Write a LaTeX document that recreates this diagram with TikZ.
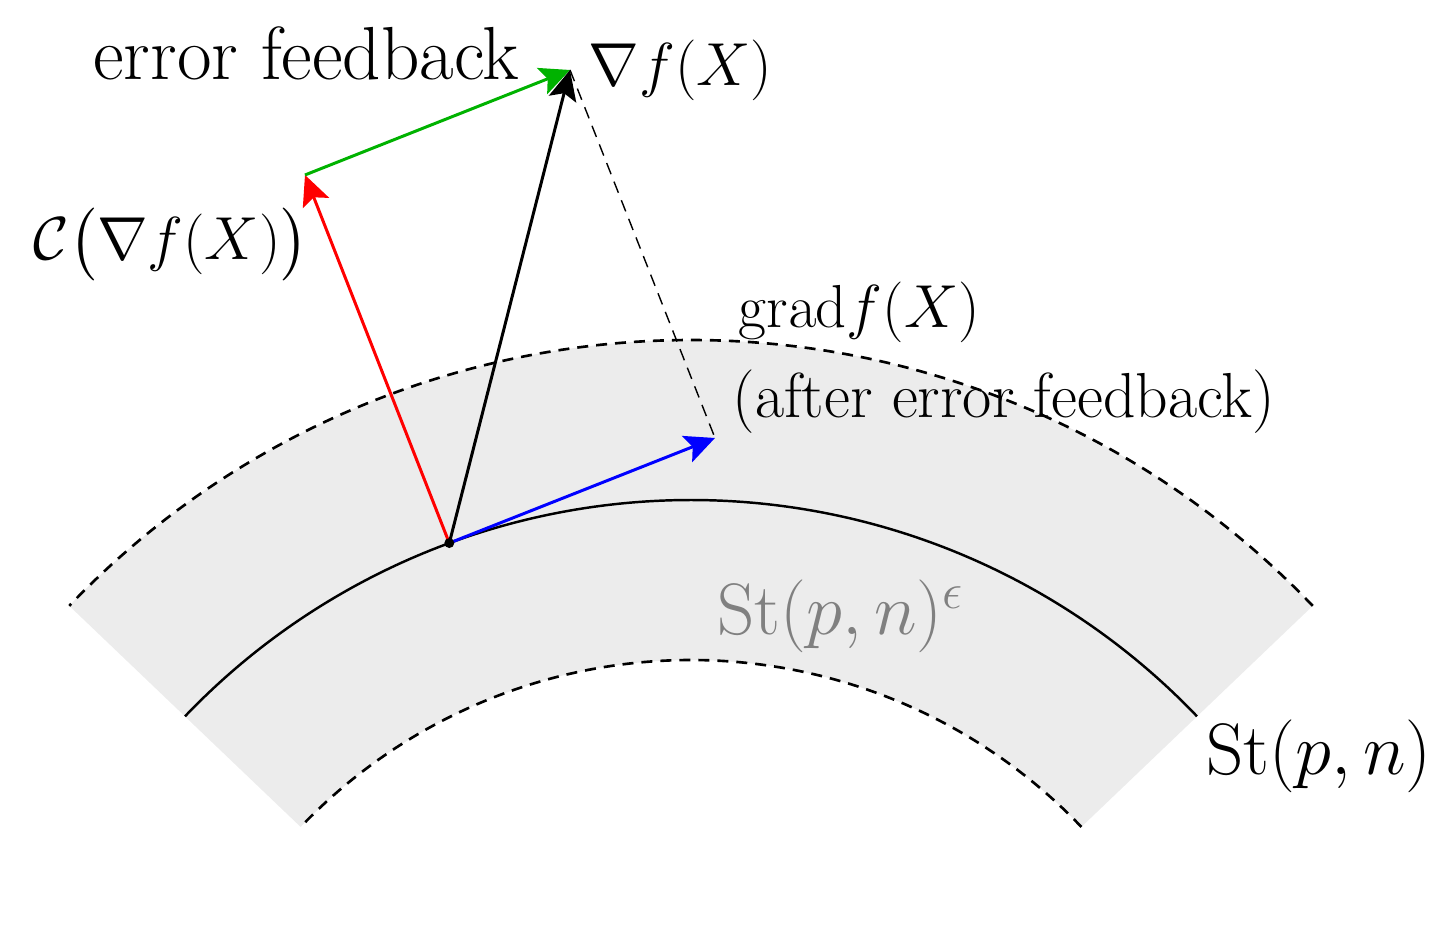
\documentclass[tikz,border=0pt]{standalone}
\usepackage{tikz}
\usetikzlibrary{calc,arrows.meta}
\usepackage{amsmath}
\tikzset{
	vec/.style={line width=0.85pt,-{Stealth[length=3mm,width=2.8mm,inset=0.6mm]}},
	band/.style={line width=0.75pt,dash pattern=on 1.1mm off 0.8mm},
	lbl/.style={inner sep=0pt,font=\fontsize{17.6}{21}\selectfont}
}

\begin{document}
\begin{tikzpicture}
		\useasboundingbox (0,0) rectangle (14.44,9.28);
		\coordinate (C) at (6.91,-2.72);
		% tube around the manifold
		\fill[gray!15] ($(C)+(43.7:8.6)$) arc[start angle=43.7,end angle=136.3,radius=8.6]
			-- ($(C)+(136.3:5.4)$) arc[start angle=136.3,end angle=43.7,radius=5.4] -- cycle;
		\draw[band] ($(C)+(43.7:8.6)$) arc[start angle=43.7,end angle=136.3,radius=8.6];
		\draw[band] ($(C)+(43.7:5.4)$) arc[start angle=43.7,end angle=136.3,radius=5.4];
		\draw[line width=0.7pt] ($(C)+(43.7:7)$) arc[start angle=43.7,end angle=136.3,radius=7];
		% points
		\coordinate (X) at ($(C)+(110.2:7)$);
		\coordinate (comp) at (3.05,7.53);
		\coordinate (grad) at (5.70,8.58);
		\coordinate (rgrad) at (7.15,4.90);
		% vectors
		\draw[line width=0.4pt,dash pattern=on 1.2mm off 0.8mm] (grad) -- (rgrad);
		\draw[vec,red] (X) -- (comp);
		\draw[vec,green!70!black] (comp) -- (grad);
		\draw[vec,black] (X) -- (grad);
		\draw[vec,blue] (X) -- (rgrad);
		\filldraw [black] (X) circle (1.2pt);
		% labels
		\node[lbl,anchor=base east,font=\fontsize{21.4}{25}\selectfont] (ef) at (5.20,8.48) {error feedback};
		\node[lbl,anchor=base west] (nab) at (5.88,8.42) {$\nabla f(X)$};
		\node[lbl,anchor=base west] (cnab) at (0.33,6.68) {$\mathcal{C}\big(\nabla f(X)\big)$};
		\node[lbl,anchor=base west,font=\fontsize{17.9}{21}\selectfont] (rg) at (7.38,6.00) {$\mathrm{grad} f(X)$};
		\node[lbl,anchor=base west,font=\fontsize{18.1}{22}\selectfont] (after) at (7.32,5.10) {(after error feedback)};
		\node[lbl,anchor=base west,text=gray,font=\fontsize{22.6}{27}\selectfont] (tube) at (7.17,2.93) {$\mathrm{St}(p,n)^\epsilon$};
		\node[lbl,anchor=base west,font=\fontsize{19.4}{23}\selectfont] (st) at (12.06,1.53) {$\mathrm{St}(p,n)$};
	\end{tikzpicture}
\end{document}
